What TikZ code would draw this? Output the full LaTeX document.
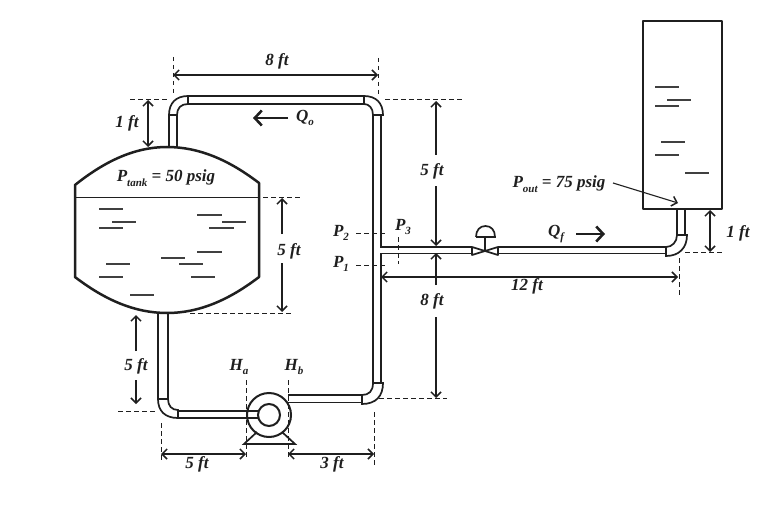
\documentclass[tikz,border=0pt]{standalone}
\usepackage{fontspec}
\setmainfont{Liberation Serif}
\usetikzlibrary{arrows.meta}
\newcommand{\sbs}[1]{\raisebox{-0.28em}{\fontsize{11}{12}\selectfont #1}}
\definecolor{ink}{gray}{0.12}
\tikzset{
  lab/.style={font=\fontsize{17}{19}\selectfont\bfseries\itshape,text=ink,inner sep=1pt},
  pipeline/.style={draw=ink,line width=1.7pt},
  tankline/.style={draw=ink,line width=2.5pt,line join=round},
  liquid/.style={draw=ink!85,line width=1.1pt},
  guide/.style={draw=ink,line width=1pt,dash pattern=on 4.5pt off 3.5pt},
  dimarrow/.style={draw=ink,line width=1.1pt,{Straight Barb[length=5pt,width=10pt,line width=1.5pt]}-{Straight Barb[length=5pt,width=10pt,line width=1.5pt]}},
  halfarrow/.style={draw=ink,line width=1.1pt,-{Straight Barb[length=5pt,width=10pt,line width=1.5pt]}},
  flowarrow/.style={draw=ink,line width=2.6pt,-{Straight Barb[length=7pt,width=15pt,line width=2.6pt]}}
}
\begin{document}
\begin{tikzpicture}[x=1pt,y=-1pt]
\fill[white] (0,0) rectangle (770,513);
\useasboundingbox (0,0) rectangle (770,513);

% supply tank
\draw[tankline] (75,185) .. controls (105,161) and (135,147) .. (167,147) .. controls (199,147) and (229,160) .. (259,183) -- (259,277) .. controls (229,300) and (199,313) .. (167,313) .. controls (135,313) and (105,300) .. (75,277) -- cycle;
\draw[draw=ink,line width=1pt] (75,197) -- (259,197);
\foreach \a/\b/\c in {99/123/209,112/136/222,99/123/228,197/222/215,222/246/222,209/234/228,197/222/252,161/185/258,179/203/264,106/130/264,99/123/277,191/215/277,130/154/295}
  \draw[liquid] (\a,\c) -- (\b,\c);

% upper tank
\draw[tankline,line width=2.2pt] (643,21) rectangle (722,209);
\foreach \a/\b/\c in {655/679/87,667/691/100,655/679/106,661/685/142,655/679/155,685/709/173}
  \draw[liquid] (\a,\c) -- (\b,\c);

% top pipe
\draw[pipeline] (169,147) -- (169,115) .. controls (169,103) and (176,96) .. (188,96) -- (364,96) .. controls (376,96) and (383,103) .. (383,115) -- (373,115);
\draw[pipeline] (177,147) -- (177,115) .. controls (177,108) and (181,104) .. (188,104) -- (364,104) .. controls (369,104) and (373,108) .. (373,115);
\draw[pipeline] (169,115) -- (177,115) (188,96) -- (188,104) (364,96) -- (364,104);
% riser with branch
\draw[pipeline] (373,115) -- (373,383);
\draw[pipeline] (381,115) -- (381,247) -- (472,247);
\draw[pipeline] (472,253.5) -- (381,253.5) -- (381,383);
% bottom right elbow
\draw[pipeline] (373,383) -- (383,383) .. controls (383,396) and (376,404) .. (362,404) -- (362,395) .. controls (369,395) and (373,391) .. (373,383);
\draw[pipeline] (362,395) -- (288,395);
\draw[pipeline] (362,402.5) -- (286,402.5);
% suction pipe
\draw[pipeline] (158,313) -- (158,399) .. controls (158,411) and (165,418) .. (178,418) -- (178,410) .. controls (172,410) and (168,406) .. (168,399) -- (158,399);
\draw[pipeline] (168,313) -- (168,399);
\draw[pipeline] (178,411) -- (258,411);
\draw[pipeline] (178,418) -- (258,418);
% pump
\draw[pipeline,line width=2pt,fill=white] (269,415) circle[radius=22pt];
\draw[pipeline] (247,411) -- (258,411) (247,418) -- (258,418);
\draw[pipeline,line width=2pt,fill=white] (269,415) circle[radius=11pt];
\draw[pipeline] (257,432) -- (244,444) -- (295,444) -- (282,432);
% valve
\draw[pipeline,line join=round] (472,247) -- (472,255) -- (498,247) -- (498,255) -- cycle;
\draw[pipeline] (485,251) -- (485,237);
\draw[pipeline] (476,237) -- (495,237) .. controls (495,230) and (491,226) .. (485.5,226) .. controls (480,226) and (476,230) .. (476,237);
\draw[pipeline] (498,247) -- (666,247) (498,253.5) -- (666,253.5);
% delivery elbow
\draw[pipeline] (666,247) .. controls (672,247) and (677,242) .. (677,235) -- (687,235) .. controls (687,248) and (679,256) .. (666,256) -- cycle;
\draw[pipeline] (677,235) -- (677,210) (685,235) -- (685,210);

% guides
\draw[guide] (173,57) -- (173,95);
\draw[guide] (378,58) -- (378,96);
\draw[guide] (130,100) -- (168,100);
\draw[guide] (385,100) -- (462,100);
\draw[guide] (263,197) -- (300,197);
\draw[guide] (190,313) -- (293,313);
\draw[guide] (356,233) -- (385,233);
\draw[guide] (356,265) -- (385,265);
\draw[guide] (398,237) -- (398,264);
\draw[guide] (679,258) -- (679,295);
\draw[guide] (685,252) -- (722,252);
\draw[guide] (118,411) -- (155,411);
\draw[guide] (246,380) -- (246,460);
\draw[guide] (288,380) -- (288,460);
\draw[guide] (161,423) -- (161,461);
\draw[guide] (374,412) -- (374,465);
\draw[guide] (379,398) -- (447,398);

% labels
\node[lab] (feet8top) at (277,61) {8 ft};
\node[lab] (feet1l) at (127,123) {1 ft};
\node[lab] (feet5tank) at (289,251) {5 ft};
\node[lab] (feet5up) at (432,171) {5 ft};
\node[lab] (feet8r) at (432,301) {8 ft};
\node[lab] (feet12) at (527,286) {12 ft};
\node[lab] (feet1r) at (738,233) {1 ft};
\node[lab] (feet5v) at (136,366) {5 ft};
\node[lab] (feet5b) at (197,464) {5 ft};
\node[lab] (feet3b) at (332,464) {3 ft};
\node[lab] (ptank) at (166,178) {P\sbs{tank} = 50 psig};
\node[lab] (pout) at (559,184) {P\sbs{out} = 75 psig};
\node[lab] (qo) at (305,118) {Q\sbs{o}};
\node[lab] (qf) at (556,234) {Q\sbs{f}};
\node[lab] (p2) at (341,233) {P\sbs{2}};
\node[lab] (p1) at (341,264) {P\sbs{1}};
\node[lab] (p3) at (403,227) {P\sbs{3}};
\node[lab] (ha) at (239,367) {H\sbs{a}};
\node[lab] (hb) at (294,367) {H\sbs{b}};

% dimension end points
\coordinate (a1) at (173,75); \coordinate (a2) at (378,75);
\coordinate (b1) at (148,100); \coordinate (b2) at (148,147);
\coordinate (c1) at (282,198); \coordinate (c2) at (282,312);
\coordinate (c3) at (282,234); \coordinate (c4) at (282,263);
\coordinate (d1) at (436,101); \coordinate (d2) at (436,246);
\coordinate (d3) at (436,155); \coordinate (d4) at (436,186);
\coordinate (e1) at (436,253); \coordinate (e2) at (436,398);
\coordinate (e3) at (436,285); \coordinate (e4) at (436,317);
\coordinate (f1) at (381,277); \coordinate (f2) at (678,277);
\coordinate (g1) at (710,210); \coordinate (g2) at (710,252);
\coordinate (h1) at (136,315); \coordinate (h2) at (136,404);
\coordinate (h3) at (136,351); \coordinate (h4) at (136,380);
\coordinate (i1) at (161,454); \coordinate (i2) at (246,454);
\coordinate (j1) at (288,454); \coordinate (j2) at (374,454);
\coordinate (k1) at (613,183); \coordinate (k2) at (678,203);
\coordinate (m1) at (288,118); \coordinate (m2) at (253,118);
\coordinate (n1) at (576,234); \coordinate (n2) at (605,234);

\draw[dimarrow] (a1) -- (a2);
\draw[dimarrow] (b1) -- (b2);
\draw[halfarrow] (c3) -- (c1);
\draw[halfarrow] (c4) -- (c2);
\draw[halfarrow] (d3) -- (d1);
\draw[halfarrow] (d4) -- (d2);
\draw[halfarrow] (e3) -- (e1);
\draw[halfarrow] (e4) -- (e2);
\draw[dimarrow] (f1) -- (f2);
\draw[dimarrow] (g1) -- (g2);
\draw[halfarrow] (h3) -- (h1);
\draw[halfarrow] (h4) -- (h2);
\draw[dimarrow] (i1) -- (i2);
\draw[dimarrow] (j1) -- (j2);
\draw[halfarrow] (k1) -- (k2);
\draw[flowarrow] (m1) -- (m2);
\draw[flowarrow] (n1) -- (n2);
\end{tikzpicture}
\end{document}
